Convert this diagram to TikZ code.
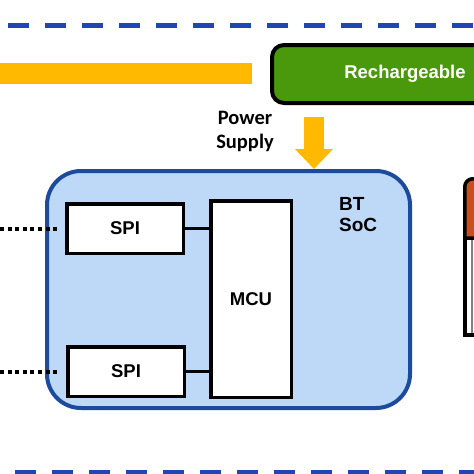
\documentclass[tikz,border=0pt]{standalone}
\usepackage{fontspec}
\setmainfont{Liberation Sans}
\newfontfamily\calibfont{Carlito}
\usetikzlibrary{arrows.meta}

\definecolor{supplyorange}{HTML}{FFB900}
\definecolor{batgreen}{HTML}{4A980C}
\definecolor{socfill}{HTML}{BED8F8}
\definecolor{socline}{HTML}{1C4A9C}
\definecolor{dashblue}{HTML}{2045B5}
\definecolor{cellred}{HTML}{C9501C}

\begin{document}
\begin{tikzpicture}[
  x=1pt, y=-1pt,
  label_font/.style={
    font=\fontsize{18.5}{21}\selectfont\bfseries
  },
  soc/.style={
    draw=socline,
    fill=socfill,
    line width=4pt,
    rounded corners=34pt,
    minimum width=363pt,
    minimum height=237pt
  },
  block/.style={
    draw,
    fill=white,
    line width=3.5pt,
    inner sep=0pt,
    label_font
  },
  block_spi/.style={
    block,
    minimum width=116.5pt,
    minimum height=49.5pt
  },
  battery/.style={
    draw=black,
    fill=batgreen,
    line width=4pt,
    rounded corners=12pt,
    minimum width=266pt,
    minimum height=58pt,
    text=white,
    label_font
  },
  link/.style={
    line width=4pt,
    dash pattern=on 4pt off 3.6pt,
    shorten >=7pt
  },
  bus/.style={
    line width=3pt
  },
  supply_arrow/.style={
    supplyorange,
    line width=20pt,
    -{Triangle[width=37pt,length=20pt]}
  },
  dash_line/.style={
    dashblue,
    dash pattern=on 21pt off 16pt
  },
  cell_line/.style={
    draw=black,
    line width=3.5pt
  }
]%
\useasboundingbox (0,0) rectangle (474,474);
\clip (0,0) rectangle (474,474);

% boundary lines
\draw[dash_line, line width=5pt] (8,25.5) -- (474,25.5);
\draw[dash_line, line width=6pt] (15,472.5) -- (474,472.5);

% supply rail and battery
\fill[supplyorange] (0,63) rectangle (252,84);
\node [battery] (bat) at (405,74) {Rechargeable};

% SoC
\node [soc] (soc) at (228.5,289.5) {};
\node [label_font, font=\fontsize{19}{21}\selectfont\bfseries, align=left, anchor=north west, inner sep=0pt]
  (soclabel) at (339,197) {BT\\SoC};
\node [block_spi] (spitop) at (125,228.5) {SPI};
\node [block_spi] (spibot) at (126,371.5) {SPI};
\node [block, minimum width=80.5pt, minimum height=196.5pt] (mcu) at (251,299) {MCU};

\draw[bus] (spitop.east) -- (spitop.east -| mcu.west);
\draw[bus] (spibot.east) -- (spibot.east -| mcu.west);

% external links
\coordinate (linkA) at (0,228.5);
\coordinate (linkB) at (0,371.5);
\draw[link] (linkA) -- (spitop.west);
\draw[link] (linkB) -- (spibot.west);

% power supply
\node [font=\fontsize{20.5}{24.5}\selectfont\calibfont\bfseries, align=center, anchor=north, inner sep=0pt]
  (supply) at (245,111) {Power\\Supply};
\coordinate (pwr) at (314,117);
\draw[supply_arrow] (pwr) -- (pwr |- soc.north);

% cell on the right
\draw[cell_line, fill=white] (464.75,238) rectangle (500,335);
\draw[gray, line width=1.5pt] (472,240) -- (472,333);
\draw[cell_line, fill=cellred] (464.75,238) [rounded corners=8pt] -- (464.75,178.75)
  -- (500,178.75) [sharp corners] -- (500,238) -- cycle;
\end{tikzpicture}
\end{document}
